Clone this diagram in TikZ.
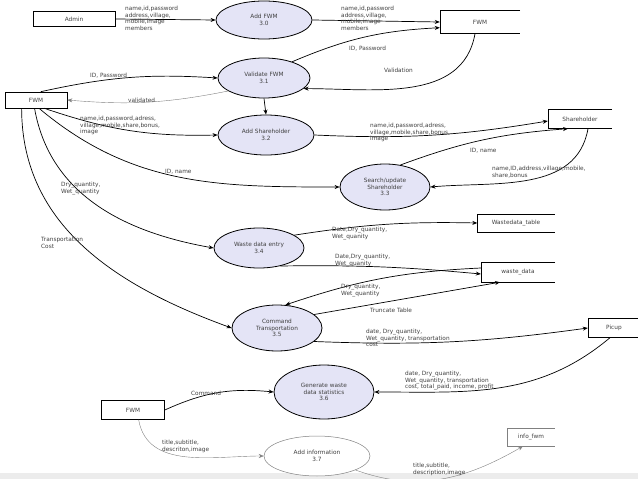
\documentclass[tikz,border=0pt]{standalone}
\usepackage{fontspec}
\setmainfont{DejaVu Sans}
\usetikzlibrary{shapes.geometric,arrows.meta}
\definecolor{proc}{HTML}{E4E4F6}
\definecolor{txt}{HTML}{404040}
\begin{document}
\begin{tikzpicture}[x=1pt,y=-1pt,
  font=\fontsize{5.8}{6.6}\selectfont, text=txt,
  proc/.style={ellipse,draw=black,fill=proc,line width=0.8pt,align=center,inner sep=0pt},
  ent/.style={rectangle,draw=black,line width=0.6pt,inner sep=0pt},
  store/.style={rectangle,inner sep=0pt},
  flow/.style={-{Stealth[length=5pt,width=4pt]},line width=0.7pt},
  gflow/.style={-{Stealth[length=5pt,width=4pt]},line width=0.4pt,draw=gray},
  lbl/.style={anchor=north west,align=left,inner sep=0pt}]
\useasboundingbox (0,0) rectangle (638,479);
\fill[gray!15] (0,473) rectangle (638,479);
% entities
\node[ent,minimum width=82pt,minimum height=15pt] (admin) at (74,19) {Admin};
\node[ent,minimum width=62pt,minimum height=16pt] (fwmL) at (36,100) {FWM};
\node[ent,minimum width=63pt,minimum height=19pt] (fwmB) at (133,410) {FWM};
% stores
\newcommand{\storebox}[1]{\draw[line width=0.6pt] (#1.north east)--(#1.north west)--(#1.south west)--(#1.south east);}
\node[store,minimum width=80pt,minimum height=23pt] (fwmT) at (480,22) {FWM};
\node[store,minimum width=64pt,minimum height=19pt] (share) at (580,119) {Shareholder};
\node[store,minimum width=77pt,minimum height=18pt] (wtab) at (516,223) {Wastedata\_table};
\node[store,minimum width=74pt,minimum height=20pt] (wdata) at (518,272) {waste\_data};
\node[store,minimum width=52pt,minimum height=19pt] (picup) at (614,328) {Picup};
\node[store,minimum width=47pt,minimum height=18pt] (info) at (531,437) {info\_fwm};
\storebox{fwmT}\storebox{share}\storebox{wtab}\storebox{wdata}\storebox{picup}
\draw[gray,line width=0.4pt] (info.north east)--(info.north west)--(info.south west)--(info.south east);
% processes
\node[proc,minimum width=96pt,minimum height=38pt] (p30) at (264,20) {Add FWM\\3.0};
\node[proc,minimum width=92pt,minimum height=40pt] (p31) at (264,78) {Validate FWM\\3.1};
\node[proc,minimum width=96pt,minimum height=40pt] (p32) at (266,135) {Add Shareholder\\3.2};
\node[proc,minimum width=90pt,minimum height=46pt] (p33) at (385,187) {Search/update\\Shareholder\\3.3};
\node[proc,minimum width=90pt,minimum height=40pt] (p34) at (259,248) {Waste data entry\\3.4};
\node[proc,minimum width=90pt,minimum height=46pt] (p35) at (277,328) {Command\\Transportation\\3.5};
\node[proc,minimum width=100pt,minimum height=54pt] (p36) at (324,392) {Generate waste\\data statistics\\3.6};
\node[ellipse,draw=gray,fill=white,line width=0.5pt,align=center,inner sep=0pt,minimum width=106pt,minimum height=40pt] (p37) at (317,456) {Add information\\3.7};
% flows
\draw[flow] (admin.east) -- (p30.west);
\draw[flow] (p30.east) -- (fwmT.west);
\draw[flow] (p31.30) to[bend left=10] ([yshift=6pt]fwmT.south west);
\draw[flow] ([xshift=-5pt]fwmT.south) to[out=-100,in=0] (p31.-15);
\draw[flow] (fwmL.60) to[bend left=8] (p31.west);
\draw[gflow] (p31.200) to[bend left=8] (fwmL.east);
\draw[flow] (p31.south) -- (p32.north);
\draw[flow] (fwmL.-45) to[bend right=10] (p32.west);
\draw[flow] (p32.east) to[bend right=6] ([yshift=-2pt]share.west);
\draw[flow] (p33.55) to[bend left=8] ([xshift=-12pt]share.south);
\draw[flow] ([xshift=8pt]share.south) to[out=-100,in=5] (p33.east);
\draw[flow] (fwmL.-70) to[out=-40,in=180] (p33.west);
\draw[flow] (fwmL.-100) to[out=-80,in=170] (p34.west);
\draw[flow] (fwmL.-150) to[out=-90,in=160] (p35.west);
\draw[flow] (p34.20) to[bend left=5] (wtab.west);
\draw[flow] (p34.-40) to[bend left=3] ([yshift=-2pt]wdata.west);
\draw[flow] ([yshift=4pt]wdata.west) to[bend right=8] (p35.70);
\draw[flow] (p35.20) -- ([xshift=-18pt]wdata.south);
\draw[flow] (p35.-20) to[bend right=5] (picup.west);
\draw[flow] ([xshift=-4pt]picup.south) to[out=-140,in=0] (p36.east);
\draw[flow] (fwmB.east) to[bend left=15] (p36.west);
\draw[gflow] (fwmB.-60) to[out=-80,in=180] (p37.west);
\draw[gflow] (p37.-20) to[out=-20,in=-150] ([xshift=-8pt]info.south);
% labels
\node[lbl] (l1) at (125,6) {name,id,password\\address,village,\\mobile,image\\members};
\node[lbl] (l2) at (341,6) {name,id,password\\address,village,\\mobile,image\\members};
\node[lbl] (l3) at (349,46) {ID, Password};
\node[lbl] (l4) at (384,68) {Validation};
\node[lbl] (l5) at (90,73) {ID, Password};
\node[lbl] (l6) at (128,98) {validated};
\node[lbl] (l7) at (80,116) {name,id,password,adress,\\village,mobile,share,bonus,\\image};
\node[lbl] (l8) at (370,123) {name,id,password,adress,\\village,mobile,share,bonus,\\image};
\node[lbl] (l9) at (470,148) {ID, name};
\node[lbl] (l10) at (492,166) {name,ID,address,village,mobile,\\share,bonus};
\node[lbl] (l11) at (165,169) {ID, name};
\node[lbl] (l12) at (61,182) {Dry\_quantity,\\Wet\_quantity};
\node[lbl] (l13) at (41,237) {Transportation\\Cost};
\node[lbl] (l14) at (332,227) {Date,Dry\_quantity,\\Wet\_quanity};
\node[lbl] (l15) at (335,254) {Date,Dry\_quantity,\\Wet\_quanity};
\node[lbl] (l16) at (341,284) {Dry\_quantity,\\Wet\_quantity};
\node[lbl] (l17) at (370,308) {Truncate Table};
\node[lbl] (l18) at (366,329) {date, Dry\_quantity,\\Wet\_quantity, transportation\\cost};
\node[lbl] (l19) at (405,371) {date, Dry\_quantity,\\Wet\_quantity, transportation\\cost, total\_paid, income, profit};
\node[lbl] (l20) at (191,391) {Command};
\node[lbl] (l21) at (162,440) {title,subtitle,\\descriton,image};
\node[lbl] (l22) at (413,463) {title,subtitle,\\description,image};
\end{tikzpicture}
\end{document}
